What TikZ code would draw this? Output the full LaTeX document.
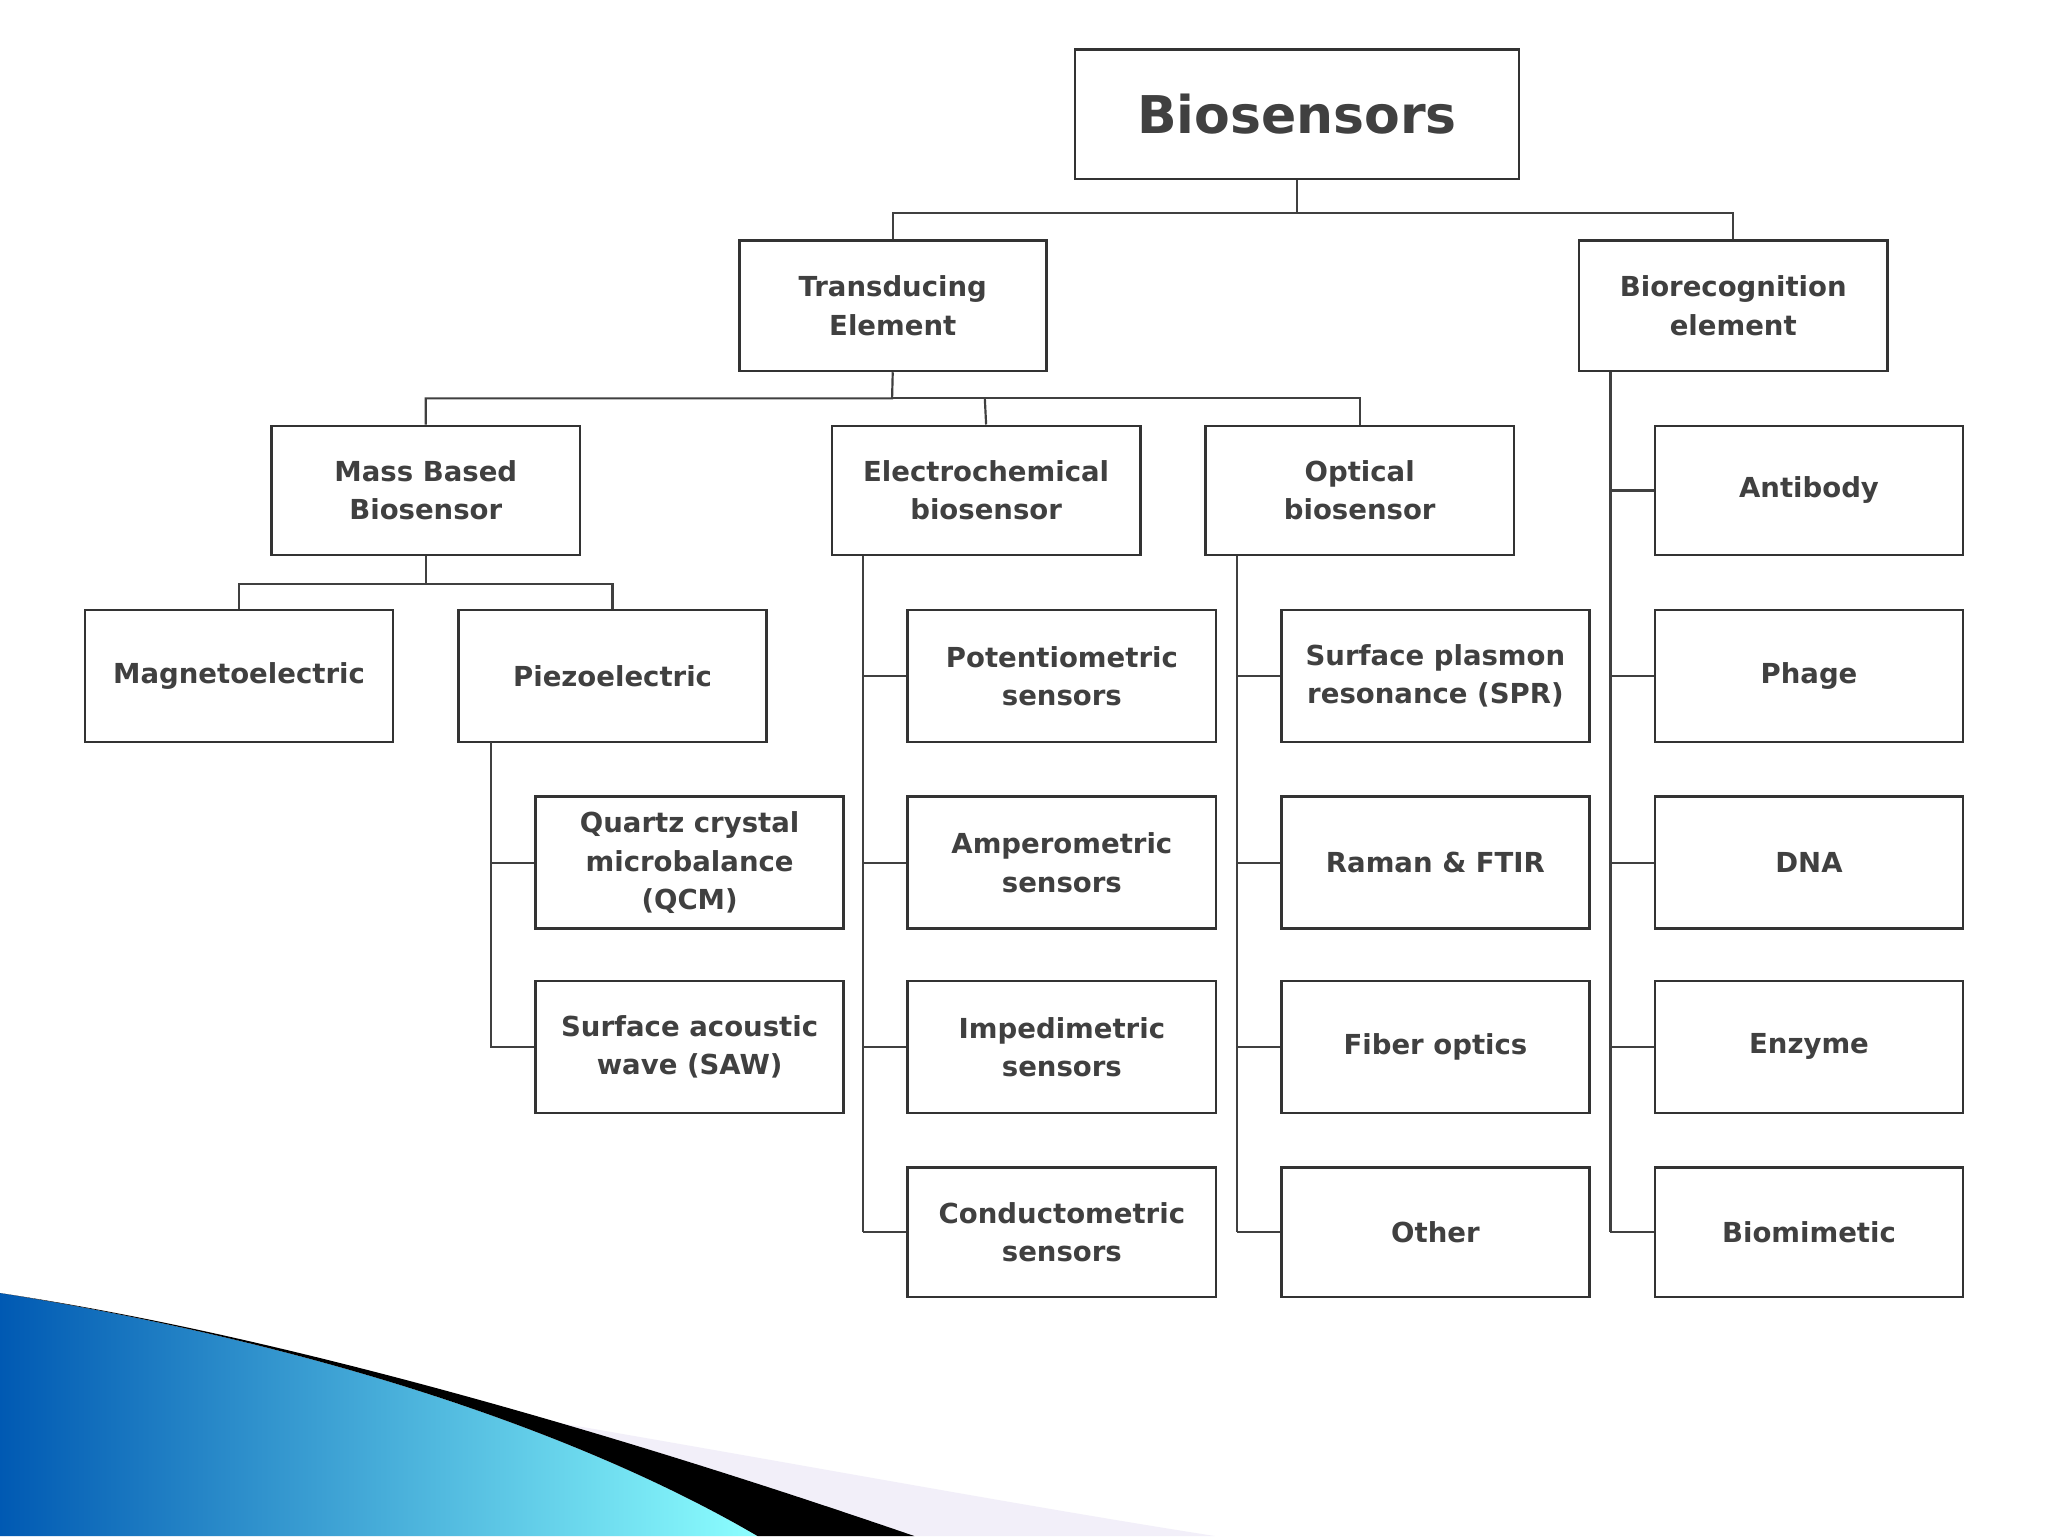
\documentclass[tikz,border=0pt]{standalone}
\usepackage{fontspec}
\setmainfont{DejaVu Sans}
\begin{document}
\begin{tikzpicture}[x=0.3mm,y=-0.3mm,
 bx/.style={draw=black!80,line width=0.6mm,align=center,inner sep=0pt,font=\bfseries\fontsize{18}{25}\selectfont,text=black!75},
 ln/.style={draw=black!75,line width=0.5mm}]
\useasboundingbox (0,0) rectangle (1568,1176);
\fill[white] (0,0) rectangle (1568,1176);
% decoration
\fill[cyan!8!blue!5] (0,1020) .. controls (400,1080) and (700,1140) .. (930,1176) -- (0,1176) -- cycle;
\shade[left color=cyan!50!blue!70!black,right color=cyan!45!white] (0,990) .. controls (250,1030) and (450,1100) .. (580,1176) -- (0,1176) -- cycle;
\fill[black] (0,990) .. controls (250,1030) and (450,1100) .. (580,1176) -- (700,1176) .. controls (450,1090) and (200,1020) .. (0,990) -- cycle;
\newcommand{\bb}[6]{\node[bx,minimum width=#4*0.3mm-#2*0.3mm,minimum height=#5*0.3mm-#3*0.3mm] (#1) at ({(#2+#4)/2},{(#3+#5)/2}) {#6};}
\node[bx,minimum width=102mm,minimum height=29.7mm,font=\bfseries\fontsize{34}{40}\selectfont] (bio) at (993,87.5) {Biosensors};
\bb{tr}{566}{184}{801}{284}{Transducing\\Element}
\bb{br}{1209}{184}{1445}{284}{Biorecognition\\element}
\bb{ma}{208}{326}{444}{425}{Mass Based\\Biosensor}
\bb{el}{637}{326}{873}{425}{Electrochemical\\biosensor}
\bb{op}{923}{326}{1159}{425}{Optical\\biosensor}
\bb{an}{1267}{326}{1503}{425}{Antibody}
\bb{mg}{65}{467}{301}{568}{Magnetoelectric}
\bb{pz}{351}{467}{587}{568}{Piezoelectric}
\bb{po}{695}{467}{931}{568}{Potentiometric\\sensors}
\bb{sp}{981}{467}{1217}{568}{Surface plasmon\\resonance (SPR)}
\bb{ph}{1267}{467}{1503}{568}{Phage}
\bb{qc}{410}{610}{646}{711}{Quartz crystal\\microbalance\\(QCM)}
\bb{am}{695}{610}{931}{711}{Amperometric\\sensors}
\bb{ra}{981}{610}{1217}{711}{Raman \& FTIR}
\bb{dn}{1267}{610}{1503}{711}{DNA}
\bb{sa}{410}{751}{646}{852}{Surface acoustic\\wave (SAW)}
\bb{im}{695}{751}{931}{852}{Impedimetric\\sensors}
\bb{fi}{981}{751}{1217}{852}{Fiber optics}
\bb{en}{1267}{751}{1503}{852}{Enzyme}
\bb{co}{695}{894}{931}{993}{Conductometric\\sensors}
\bb{ot}{981}{894}{1217}{993}{Other}
\bb{bm}{1267}{894}{1503}{993}{Biomimetic}
% trees
\draw[ln] (bio.south) -- (993,163) -| (tr.north);
\draw[ln] (993,163) -| (br.north);
\draw[ln] (tr.south) -- (683,305) -| (ma.north);
\draw[ln] (683,305) -| (op.north);
\draw[ln] (754,305) -- (el.north);
\draw[ln] (ma.south) -- (326,447) -| (mg.north);
\draw[ln] (326,447) -| (pz.north);
\draw[ln] (376,568) |- (sa.west); \draw[ln] (376,660.5) -- (qc.west);
\foreach \p/\a/\b/\c/\d/\e in {661/el/po/am/im/co, 947/op/sp/ra/fi/ot, 1233/br/an/ph/dn/en}{
 \draw[ln] (\p,0 |- \a.south) -- (\p,943.5);
 \foreach \n in {\b,\c,\d,\e}{\draw[ln] (\n.west) -- (\p,0 |- \n.west);}
}
\draw[ln] (1233,943.5) -- (bm.west);
\end{tikzpicture}
\end{document}
